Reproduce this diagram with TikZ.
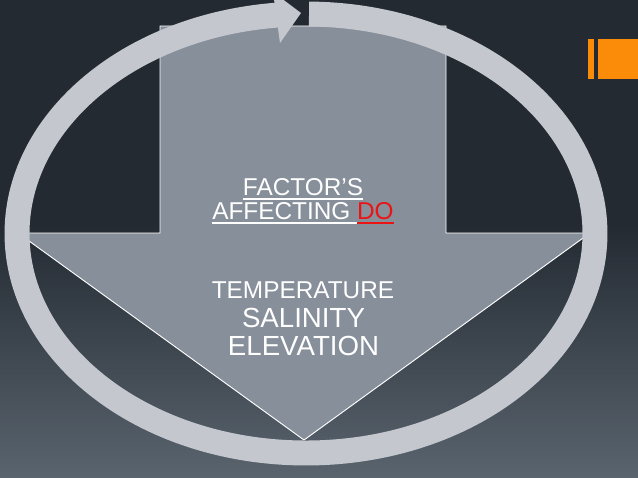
\documentclass[tikz,border=0pt]{standalone}
\usepackage{fontspec}
\setmainfont{Liberation Sans}
\usetikzlibrary{calc}
\definecolor{slatebg}{RGB}{35,42,50}
\definecolor{slatelow}{RGB}{90,100,110}
\definecolor{ringgray}{RGB}{196,199,205}
\definecolor{arrowgray}{RGB}{135,143,155}
\definecolor{barorange}{RGB}{250,140,10}
\definecolor{dored}{RGB}{235,20,20}
\newcommand{\uword}[1]{\leavevmode\vtop{\hbox{#1}\kern2.4pt\hrule height 1.4pt}}

\begin{document}
\begin{tikzpicture}[x=0.03cm, y=-0.03cm,
    lbl/.style={text=white, anchor=base, inner sep=0pt, font=\fontsize{20.8}{20.8}\selectfont},
    biglbl/.style={lbl, font=\fontsize{23.6}{23.6}\selectfont},
    ring/.style={draw=ringgray, line width=21.3pt}]
      \useasboundingbox (0,0) rectangle (638,478);
      \clip (0,0) rectangle (638,478);
      \fill[slatebg] (0,0) rectangle (638,225);
      \shade[top color=slatebg, bottom color=slatelow] (0,224) rectangle (638,478);

      \fill[arrowgray, draw=white, line width=0.8pt] (160,26) -- (446,26) -- (446,233) -- (590,233) -- (304,440) -- (18,233) -- (160,233) -- cycle;

      \coordinate (ringc) at (306,233.5);
      \draw[ring] (ringc) ++(270.6:289 and 219.5) arc[start angle=270.6, end angle=624.8, x radius=289, y radius=219.5];
      \coordinate (headback) at (280,43);
      \coordinate (headtip) at (301,13);
      \coordinate (headtop) at (273,-8);
      \fill[ringgray] (headback) -- (headtip) -- (headtop) -- cycle;

      \fill[barorange] (588,39) rectangle (594,79);
      \fill[barorange] (598,39) rectangle (638,79);

      \node[lbl] (factor) at (303,195) {\uword{FACTOR’S}};
      \node[lbl] (affect) at (303,219) {\uword{AFFECTING }\textcolor{dored}{\uword{DO}}};
      \node[lbl] (temp) at (303,298) {TEMPERATURE};
      \node[biglbl] (salt) at (303.5,327) {SALINITY};
      \node[biglbl] (elev) at (303.5,355) {ELEVATION};
    \end{tikzpicture}
\end{document}
